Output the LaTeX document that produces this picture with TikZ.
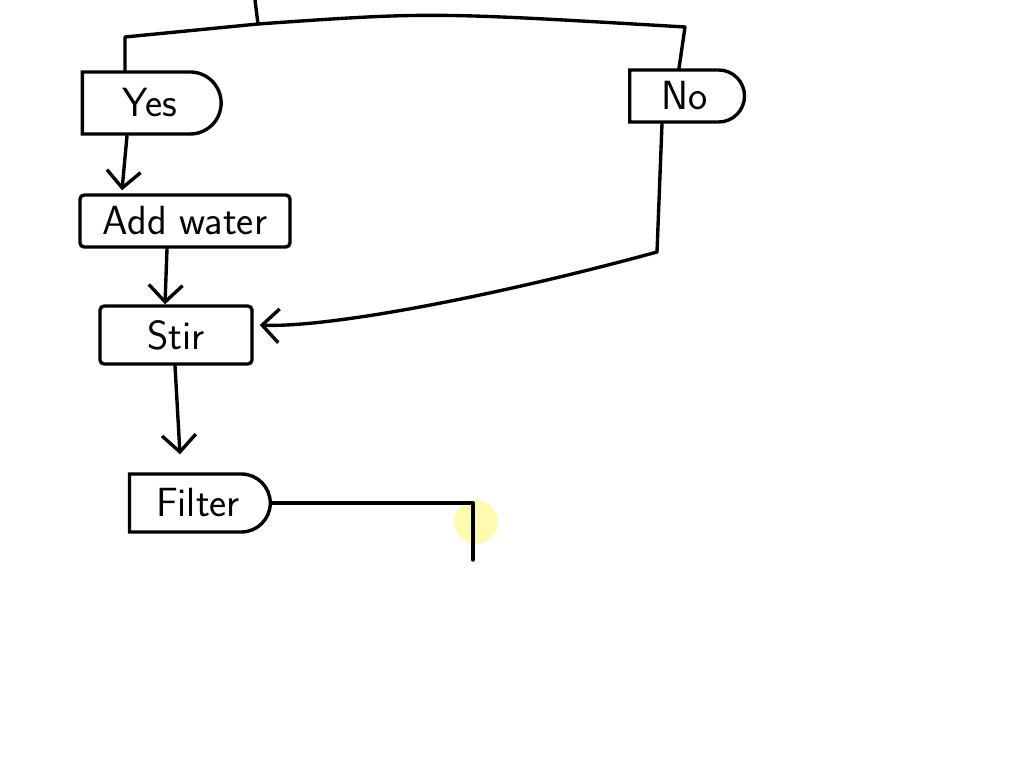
\documentclass[tikz,border=0pt]{standalone}
\usepackage{tikz}
\usetikzlibrary{shapes.misc,arrows.meta,calc}

\begin{document}
\begin{tikzpicture}[
	x=0.025cm, y=-0.025cm,
	block/.style={
		rectangle,
		draw,
		line width=2.4pt,
		rounded corners=3pt,
		inner sep=4pt,
		minimum height=1.3cm,
		font=\sffamily\fontsize{29}{31}\selectfont},
	capsule/.style={
		rounded rectangle,
		rounded rectangle left arc=none,
		draw,
		line width=2.4pt,
		inner sep=4pt,
		minimum height=1.45cm,
		font=\sffamily\fontsize{29}{31}\selectfont},
	line/.style={
		draw,
		line width=2.4pt,
		line cap=round,
		line join=round},
	arrow/.style={
		line,
		-{Straight Barb[length=12pt,width=24pt,line width=2.4pt]}}]

    \useasboundingbox (0,0) rectangle (1024,768);

    % Place nodes
    \node [capsule, minimum width=3.75cm, minimum height=1.55cm] (yes) at (150,103) {Yes};
    \node [capsule, minimum width=3.15cm, minimum height=1.3cm] (no) at (685,96) {No};
    \node [block, minimum width=5.25cm] (addwater) at (185,221) {Add water};
    \node [block, minimum width=3.8cm, minimum height=1.45cm] (stir) at (176,335) {Stir};
    \node [capsule, minimum width=3.8cm] (filter) at (198,503) {Filter};
    \coordinate (top) at (255,0);
    \coordinate (split) at (258,24);
    \coordinate (drop) at (473,560);
    % pen highlight
    \fill [yellow!45, opacity=0.7] (476,522) circle (0.55cm);
    % Draw edges
    \path [line] (top) -- (split);
    \path [line] (split) -- (125,37) -- ($(yes.north)+(-25,0)$);
    \path [line] (split) .. controls (430,12) .. (685,27) -- ($(no.north)+(-6,0)$);
    \path [arrow] ($(yes.south)+(-23,0)$) -- ($(addwater.north)+(-63,-3)$);
    \path [arrow] ($(addwater.south)+(-18,0)$) -- ($(stir.north)+(-11,0)$);
    \path [arrow] ($(no.south)+(-23,0)$) -- (657,252) .. controls (500,295) and (330,328) .. ($(stir.east)+(6,-10)$);
    \path [arrow] ($(stir.south)+(-1,0)$) -- ($(filter.north)+(-18,-18)$);
    \path [line] (filter.east) -| (drop);
\end{tikzpicture}
\end{document}
